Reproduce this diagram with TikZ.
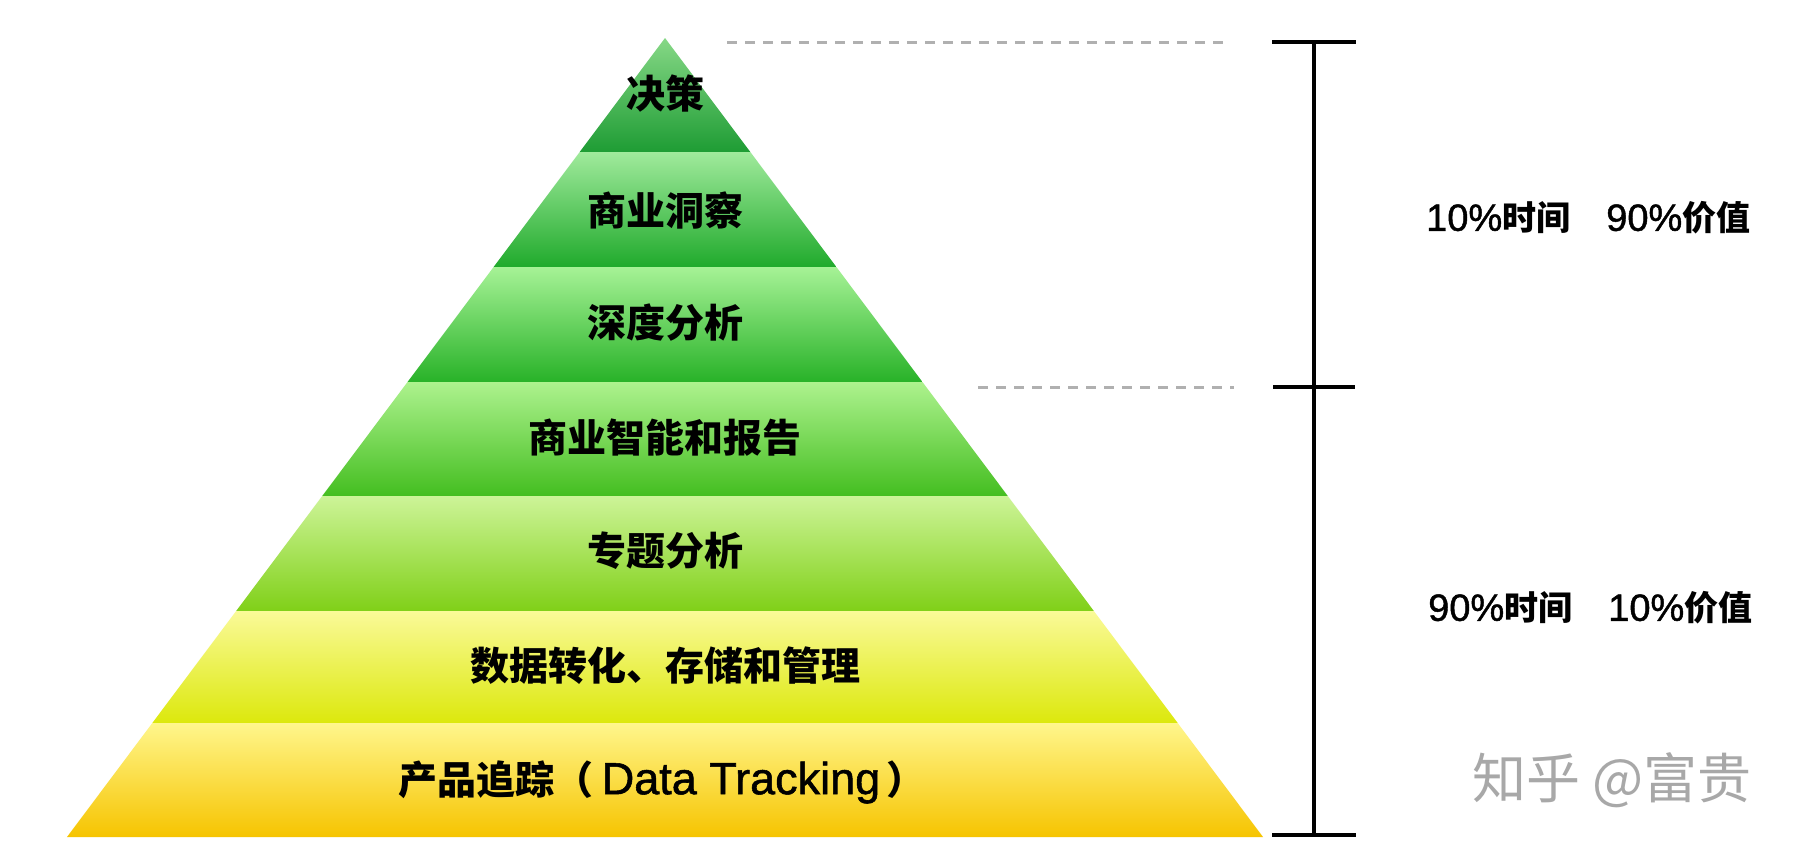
\documentclass[tikz,border=0pt]{standalone}
\usepackage{fontspec}
\setmainfont{Noto Sans CJK SC}
\newfontfamily\latfont[FakeBold=1.2]{Liberation Sans}
\definecolor{b1t}{HTML}{86D886}
\definecolor{b1b}{HTML}{1E9C34}
\definecolor{b2t}{HTML}{A0EA9C}
\definecolor{b2b}{HTML}{20AA2C}
\definecolor{b3t}{HTML}{A6F296}
\definecolor{b3b}{HTML}{28B228}
\definecolor{b4t}{HTML}{ADF28E}
\definecolor{b4b}{HTML}{44BE20}
\definecolor{b5t}{HTML}{CDF498}
\definecolor{b5b}{HTML}{80D018}
\definecolor{b6t}{HTML}{FAFA98}
\definecolor{b6b}{HTML}{DCE80C}
\definecolor{b7t}{HTML}{FFF68C}
\definecolor{b7b}{HTML}{F6C400}
\definecolor{dashgray}{HTML}{B0B0B0}
\definecolor{wmgray}{HTML}{A8A8A8}
\newcommand{\lat}[2]{{\latfont\mdseries\fontsize{#1}{#1}\selectfont #2}}
\begin{document}
\begin{tikzpicture}[x=1pt,y=-1pt,
  bandlabel/.style={font=\fontsize{39}{44}\selectfont\bfseries, text=black, inner sep=0pt},
  sidelabel/.style={font=\fontsize{34}{40}\selectfont\bfseries, text=black, anchor=west, inner sep=0pt},
  guide/.style={dashgray, line width=3pt, dash pattern=on 10pt off 8pt},
  bracket/.style={black, line width=3.5pt}]
\useasboundingbox[fill=white] (0,0) rectangle (1799,852);
% pyramid bands
\foreach \t/\b/\ct/\cb in {38/152/b1t/b1b, 152/267/b2t/b2b, 267/382/b3t/b3b, 382/496/b4t/b4b, 496/611/b5t/b5b, 611/723/b6t/b6b, 723/837/b7t/b7b}{
  \pgfmathsetmacro\lt{665-(\t-38)*0.748436}
  \pgfmathsetmacro\rt{665+(\t-38)*0.748436}
  \pgfmathsetmacro\lb{665-(\b-38)*0.748436}
  \pgfmathsetmacro\rb{665+(\b-38)*0.748436}
  \shade[top color=\ct, bottom color=\cb] (\lt,\t) -- (\rt,\t) -- (\rb,\b) -- (\lb,\b) -- cycle;
}
% labels
\node[bandlabel] (l1) at (665,94) {决策};
\node[bandlabel] (l2) at (665,210) {商业洞察};
\node[bandlabel] (l3) at (665,323) {深度分析};
\node[bandlabel] (l4) at (665,438) {商业智能和报告};
\node[bandlabel] (l5) at (665,551) {专题分析};
\node[bandlabel] (l6) at (665,666) {数据转化、存储和管理};
\node[bandlabel] (l7) at (662,782) {产品追踪（\hspace{8pt}\lat{45}{Data Tracking}\hspace{6pt}）};
% dashed guides
\coordinate (d1a) at (727,42);
\coordinate (d1b) at (1228,42);
\coordinate (d2a) at (978,387);
\coordinate (d2b) at (1234,387);
\draw[guide] (d1a) -- (d1b);
\draw[guide] (d2a) -- (d2b);
% bracket
\coordinate (btop) at (1314,42);
\coordinate (bmid) at (1314,387);
\coordinate (bbot) at (1314,835);
\draw[bracket] (btop) -- (bbot);
\draw[bracket] ([xshift=-42pt]btop) -- ([xshift=42pt]btop);
\draw[bracket] ([xshift=-41pt]bmid) -- ([xshift=41pt]bmid);
\draw[bracket] ([xshift=-42pt]bbot) -- ([xshift=42pt]bbot);
% side labels
\node[sidelabel] (s1) at (1426,218) {\lat{38}{10\%}时间\hspace{36pt}\lat{38}{90\%}价值};
\node[sidelabel] (s2) at (1428,608) {\lat{38}{90\%}时间\hspace{36pt}\lat{38}{10\%}价值};
% watermark
\node[font=\fontsize{54}{58}\selectfont, text=wmgray, anchor=west, inner sep=0pt] (wm) at (1472,780) {知乎 @富贵};
\end{tikzpicture}
\end{document}
